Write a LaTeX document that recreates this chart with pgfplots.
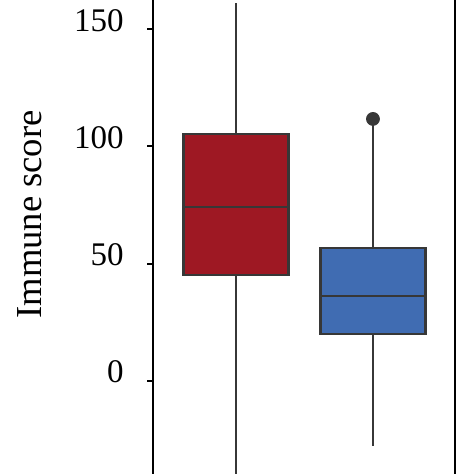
\documentclass[border=0pt]{standalone}
\usepackage{fontspec}
\setmainfont{Liberation Serif}
\usepackage{pgfplots}
\usepgfplotslibrary{statistics}
\pgfplotsset{compat=1.18}
\definecolor{boxred}{RGB}{158,24,35}
\definecolor{boxblue}{RGB}{64,108,178}
\definecolor{edge}{RGB}{55,55,55}
\begin{document}
\begin{tikzpicture}
\useasboundingbox (-76.5pt,0pt) rectangle (160.5pt,237pt);
\clip (-76.5pt,0pt) rectangle (160.5pt,237pt);
\begin{axis}[
  at={(0pt,-23.88pt)}, anchor=south west,
  scale only axis, width=151pt, height=293.25pt,
  xmin=0.394, xmax=2.599, ymin=-60, ymax=190,
  xtick=\empty,
  ytick={0,50,100,150},
  ytick pos=left,
  tick align=outside,
  major tick length=3pt,
  tick style={line width=1pt, black},
  axis line style={line width=1.4pt, black},
  /pgf/number format/assume math mode=true,
  yticklabel style={font=\fontsize{16.5}{16.5}\selectfont, anchor=base east, inner sep=0pt, xshift=-11.5pt, yshift=-1pt},
  every axis y label/.style={at={(rel axis cs:0,0.5239)}, xshift=-55.5pt, rotate=90, anchor=base, font=\fontsize{18.3}{18.3}\selectfont},
  ylabel={Immune score},
  boxplot/draw direction=y,
  boxplot/whisker extend=0,
]
\addplot[boxplot prepared={lower whisker=-45, lower quartile=45.2, median=74.2, upper quartile=105.3, upper whisker=161, draw position=1, box extend=0.766},
  fill=boxred, draw=edge, line width=1.2pt, mark=none] coordinates {};
\addplot[boxplot prepared={lower whisker=-27.7, lower quartile=20.0, median=36.2, upper quartile=56.7, upper whisker=109, draw position=2, box extend=0.766},
  fill=boxblue, draw=edge, line width=1.2pt, mark=*, mark size=3.2pt, mark options={fill=edge, draw=edge, line width=0.5pt}] coordinates {(0,111.7)};
\end{axis}
\end{tikzpicture}
\end{document}
